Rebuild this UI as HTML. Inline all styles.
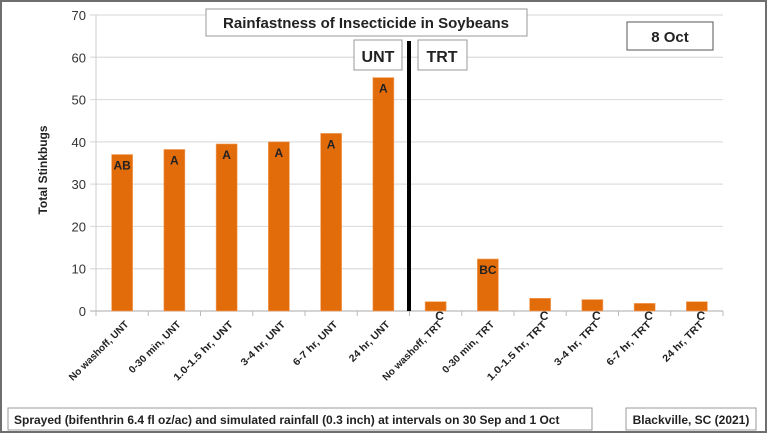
<!DOCTYPE html>
<html><head><meta charset="utf-8"><style>
body{margin:0;background:#fff;}
svg{display:block;font-family:"Liberation Sans",sans-serif;}
</style></head><body>
<svg width="767" height="433" viewBox="0 0 767 433">
<rect x="1" y="1" width="765" height="431" fill="#fff" stroke="#6e6e6e" stroke-width="2"/>
<g id="grid"></g><g id="bars"></g><g id="labels"></g>
<text transform="translate(47,170) rotate(-90)" text-anchor="middle" font-size="12" font-weight="bold" fill="#222">Total Stinkbugs</text>
<rect x="407" y="41" width="4" height="270" fill="#000"/>
<rect x="206" y="9" width="321" height="27" fill="#fff" stroke="#999"/>
<text x="366" y="28" text-anchor="middle" font-size="15" font-weight="bold" fill="#222">Rainfastness of Insecticide in Soybeans</text>
<rect x="354" y="40" width="48" height="30" fill="#fff" stroke="#999"/>
<text x="378" y="62" text-anchor="middle" font-size="16" font-weight="bold" fill="#222">UNT</text>
<rect x="418" y="40" width="49" height="30" fill="#fff" stroke="#999"/>
<text x="442" y="62" text-anchor="middle" font-size="16" font-weight="bold" fill="#222">TRT</text>
<rect x="627" y="22" width="86" height="28" fill="#fff" stroke="#555"/>
<text x="670" y="42" text-anchor="middle" font-size="15" font-weight="bold" fill="#222">8 Oct</text>
<rect x="8" y="408" width="584" height="22" fill="#fff" stroke="#999"/>
<text x="14" y="424" font-size="12" font-weight="bold" fill="#222">Sprayed (bifenthrin 6.4 fl oz/ac) and simulated rainfall (0.3 inch) at intervals on 30 Sep and 1 Oct</text>
<rect x="626" y="408" width="130" height="22" fill="#fff" stroke="#999"/>
<text x="691" y="424" text-anchor="middle" font-size="12" font-weight="bold" fill="#222">Blackville, SC (2021)</text>
</svg>
<script>
const categories=["No washoff, UNT","0-30 min, UNT","1.0-1.5 hr, UNT","3-4 hr, UNT","6-7 hr, UNT","24 hr, UNT","No washoff, TRT","0-30 min, TRT","1.0-1.5 hr, TRT","3-4 hr, TRT","6-7 hr, TRT","24 hr, TRT"];
const values=[37,38.2,39.5,40,42,55.2,2.2,12.3,3,2.7,1.8,2.2];
const letters=["AB","A","A","A","A","A","C","BC","C","C","C","C"];
const yTicks=[0,10,20,30,40,50,60,70];
const NS="http://www.w3.org/2000/svg";
const x0=96,x1=723,yb=311,yt=15,yMax=70;
const band=(x1-x0)/categories.length;
const y=v=>yb-(v/yMax)*(yb-yt);
const xc=i=>x0+band*(i+0.5);
function mk(t,a,p){const e=document.createElementNS(NS,t);for(const k in a)e.setAttribute(k,a[k]);p.appendChild(e);return e;}
const g=document.getElementById('grid'),b=document.getElementById('bars'),l=document.getElementById('labels');
yTicks.forEach(t=>{
 const ln=mk('line',{x1:x0-6,x2:x1,y1:y(t),y2:y(t),stroke:t===0?'#bbb':'#ddd','stroke-width':1.2},g);
 
 
 const tx=mk('text',{x:x0-10,y:y(t)+5,'text-anchor':'end','font-size':13,fill:'#333'},g);
 tx.textContent=t;
 
 
});
mk('line',{x1:x0,x2:x0,y1:yt,y2:yb,stroke:'#ccc'},g);
for(let i=0;i<=categories.length;i++){mk('line',{x1:x0+band*i,x2:x0+band*i,y1:yb,y2:yb+5,stroke:'#bbb'},g);}
categories.forEach((c,i)=>{
 const cx=xc(i),v=values[i];
 const r=mk('rect',{x:cx-10.5,y:y(v),width:21,height:yb-y(v),fill:'#e36c0a',stroke:'#f3a060','stroke-width':0.6},b);
 
 
 const lt=mk('text',{x:cx+(i>=6&&i!==7?4:0),y:(i>=6&&i!==7)?yb+9:y(v)+15,'text-anchor':'middle','font-size':12,'font-weight':'bold',fill:'#222'},l);
 lt.textContent=letters[i];
 
 
 const xl=mk('text',{transform:`translate(${cx+7},${yb+14}) rotate(-45)`,'text-anchor':'end','font-size':10,'font-weight':'bold',fill:'#222',textLength:c.length*5.3,lengthAdjust:'spacingAndGlyphs'},l);
 xl.textContent=c;
 
 
});
</script>
</body></html>
